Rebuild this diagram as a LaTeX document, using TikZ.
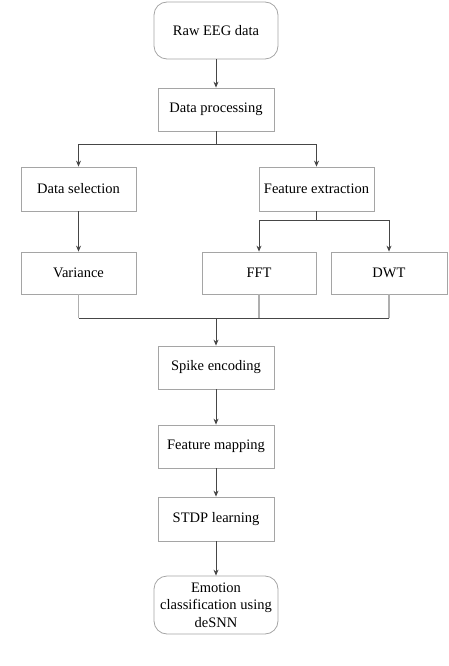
\documentclass[tikz,border=0pt]{standalone}
\usepackage{fontspec}
\setmainfont{Liberation Serif}
\usetikzlibrary{arrows.meta}
\definecolor{boxgray}{RGB}{165,165,165}
\definecolor{linegray}{RGB}{70,70,70}
\definecolor{legray}{RGB}{175,175,175}

\begin{document}
\begin{tikzpicture}[x=1pt, y=-1pt, >={Stealth[length=6pt,width=5pt]},
    font=\fontsize{14.5}{17.5}\selectfont,
    stepbox/.style={draw=boxgray, line width=0.8pt, minimum width=116pt, minimum height=43pt, inner sep=0pt},
    endbox/.style={stepbox, rounded corners=13pt, minimum width=124pt, minimum height=57pt, align=center},
    conn/.style={draw=linegray, line width=0.8pt},
    leg/.style={draw=legray, line width=1.6pt}]
    % \draw[help lines, gray] (0, 0) grid (448, 666);
    \useasboundingbox (0, 0) rectangle (448, 666);

    \node[endbox] (raw) at (216, 30.5) {Raw EEG data};
    \node[stepbox] (proc) at (216, 109.5) {Data processing};

    \node[stepbox, minimum width=115pt, minimum height=44pt] (sel) at (78.5, 189) {Data selection};
    \node[stepbox, minimum width=115pt, minimum height=44pt] (feat) at (316.5, 189) {Feature extraction};

    \node[stepbox, minimum width=115pt, minimum height=42pt] (var) at (78.5, 273) {Variance};
    \node[stepbox, minimum width=114pt, minimum height=42pt] (fft) at (259, 273) {FFT};
    \node[stepbox, minimum width=116pt, minimum height=42pt] (dwt) at (389, 273) {DWT};

    \node[stepbox] (spike) at (216, 367.5) {Spike encoding};
    \node[stepbox] (map) at (216, 446.5) {Feature mapping};
    \node[stepbox, minimum height=44pt] (stdp) at (216, 519) {STDP learning};
    \node[endbox, minimum height=58pt] (emo) at (216, 605) {Emotion\\classification using\\deSNN};

    \coordinate (split) at (216, 144);
    \coordinate (fsplit) at (316.5, 220.5);
    \coordinate (merge) at (216, 318);

    \draw[conn, ->] (raw) -- (proc);
    \draw[conn] (proc) -- (split);
    \draw[conn, ->] (split) -| (sel);
    \draw[conn, ->] (split) -| (feat);
    \draw[conn, ->] (sel) -- (var);
    \draw[conn] (feat) -- (fsplit);
    \draw[conn, ->] (fsplit) -| (fft);
    \draw[conn, ->] (fsplit) -| (dwt);

    \draw[leg] (var) -- (var |- merge);
    \draw[leg] (fft) -- (fft |- merge);
    \draw[leg] (dwt) -- (dwt |- merge);
    \draw[conn] (var |- merge) -- (dwt |- merge);

    \draw[conn, ->] (merge) -- (spike);
    \draw[conn, ->] (spike) -- (map);
    \draw[conn, ->] (map) -- (stdp);
    \draw[conn, ->] (stdp) -- (emo);
\end{tikzpicture}
\end{document}
